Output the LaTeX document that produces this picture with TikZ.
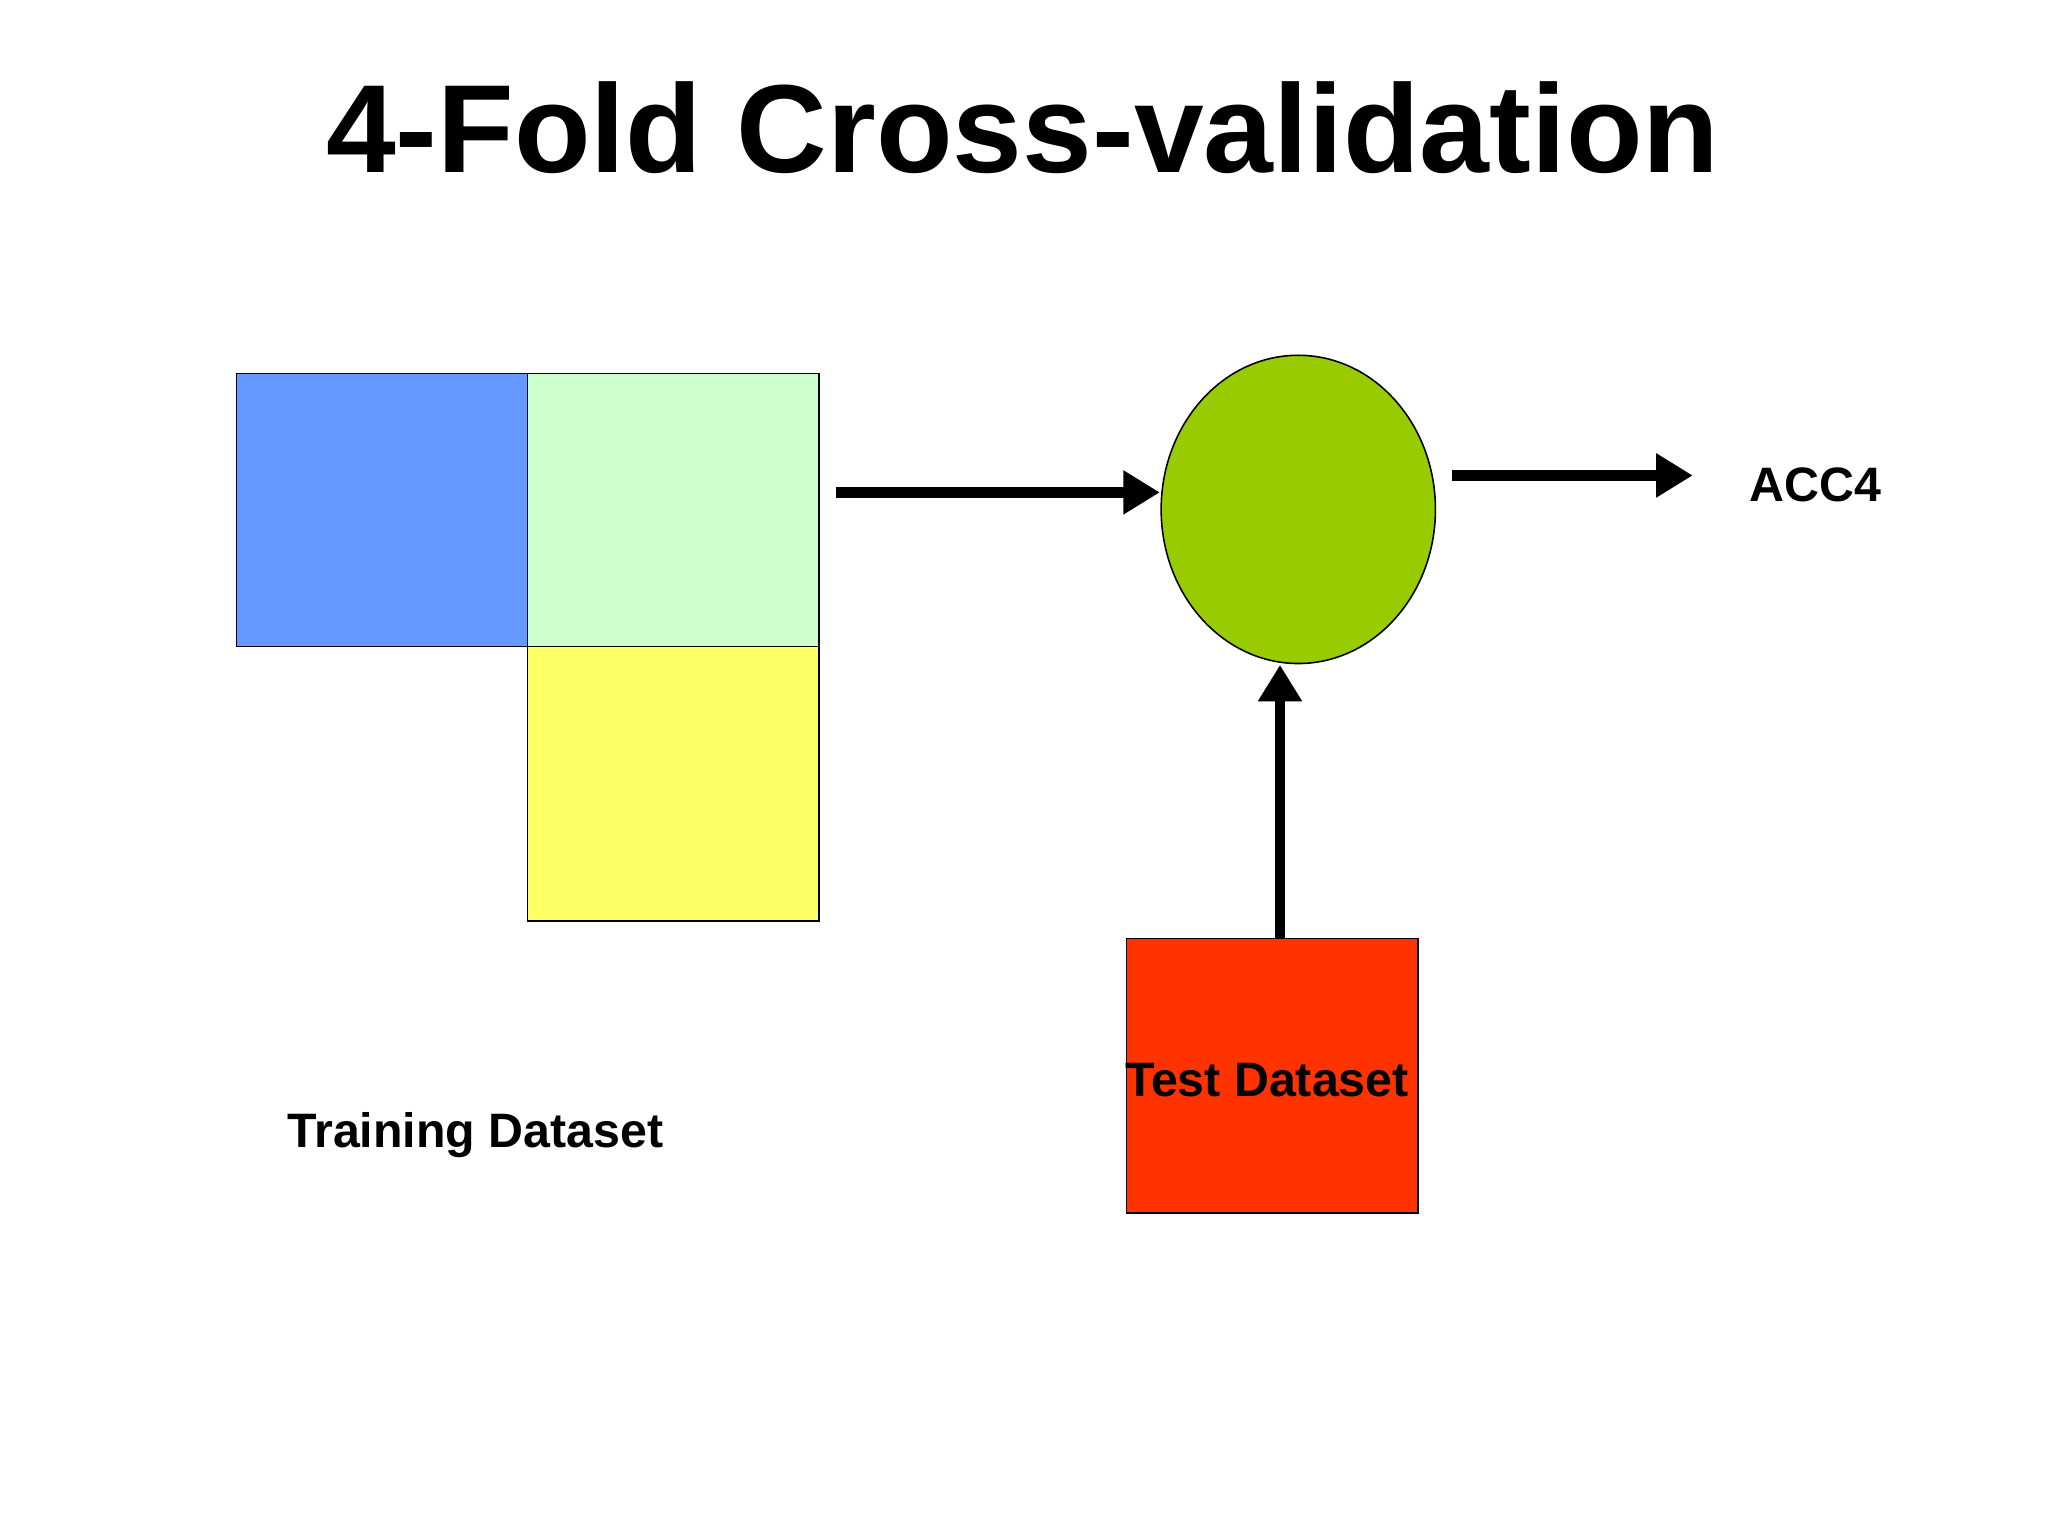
\documentclass[tikz,border=0pt]{standalone}
\usepackage{fontspec}
\setmainfont{Liberation Sans}
\usetikzlibrary{arrows.meta,shapes.geometric}
\definecolor{cblue}{HTML}{6699FF}
\definecolor{cgreen}{HTML}{CCFFCC}
\definecolor{cyel}{HTML}{FFFF66}
\definecolor{cell}{HTML}{99CC00}
\definecolor{cred}{HTML}{FF3300}
\tikzset{
 box/.style={draw=black,line width=0.6pt},
 bigarrow/.style={line width=4pt,-{Triangle[length=14pt,width=16pt]}},
 lbl/.style={font=\bfseries\fontsize{18.5}{22}\selectfont,inner sep=0pt}
}
\begin{document}
\begin{tikzpicture}[x=0.5pt,y=-0.5pt]
\useasboundingbox (0,0) rectangle (1568,1174);
\node[font=\bfseries\fontsize{48}{56}\selectfont,inner sep=0pt] (title) at (783,98) {4-Fold Cross-validation};
\path[box,fill=cblue] (181,286) rectangle (404,495);
\path[box,fill=cgreen] (404,286) rectangle (627,495);
\path[box,fill=cyel] (404,495) rectangle (627,705);
\coordinate (a1s) at (640,377);
\coordinate (a1e) at (888,377);
\node[draw=black,line width=0.6pt,fill=cell,ellipse,minimum width=105pt,minimum height=118pt,inner sep=0pt] (ell) at (994,390) {};
\node[draw=black,line width=0.6pt,fill=cred,minimum width=111.5pt,minimum height=105pt,inner sep=0pt,anchor=north west] (red) at (862,718) {};
\node[lbl] (test) at (970,827) {Test Dataset};
\node[lbl] (train) at (364,869) {Training Dataset};
\node[lbl] (acc) at (1390,371) {ACC4};
\coordinate (a2s) at (1112,364);
\coordinate (a2e) at (1296,364);
\coordinate (a3s) at (980,718);
\coordinate (a3e) at (980,509);
\draw[bigarrow] (a1s) -- (a1e);
\draw[bigarrow] (a2s) -- (a2e);
\draw[bigarrow] (a3s) -- (a3e);
\end{tikzpicture}
\end{document}
